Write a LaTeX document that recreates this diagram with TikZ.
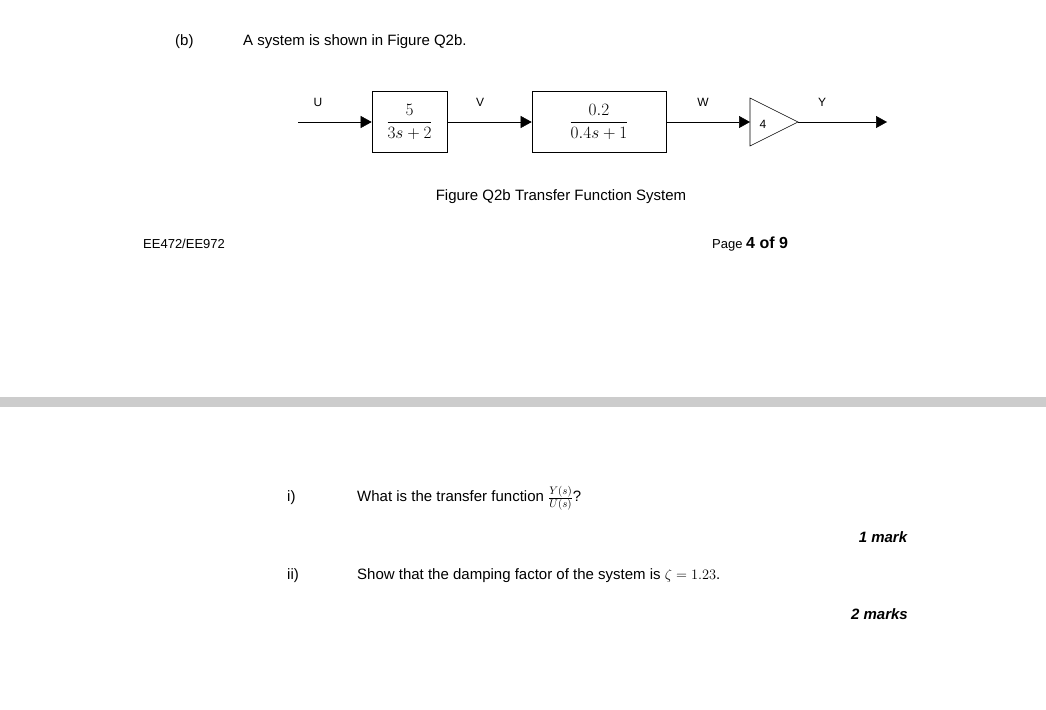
\documentclass[tikz,border=0pt]{standalone}
\usepackage{amsmath}
\usepackage{fontspec}
\setmainfont{Liberation Sans}
\usetikzlibrary{arrows.meta}
\begin{document}
\begin{tikzpicture}[x=1pt,y=-1pt,
  txt/.style={anchor=west,inner sep=0,font=\fontsize{15}{18}\selectfont},
  sig/.style={inner sep=0,font=\fontsize{12}{14}\selectfont},
  blk/.style={draw,line width=0.6pt,inner sep=0},
  arr/.style={line width=0.5pt,-{Triangle[length=11pt,width=12pt]}}]
\useasboundingbox (0,0) rectangle (1046,709);
\fill[gray!40] (0,397) rectangle (1046,407);
\node[txt] (b) at (175,42) {(b)};
\node[txt] (t1) at (243,42) {A system is shown in Figure Q2b.};
% diagram
\coordinate (in) at (298,122);
\node[blk,minimum width=75pt,minimum height=61pt] (g1) at (409.5,122) {\fontsize{19}{22}\selectfont$\dfrac{5}{3s+2}$};
\node[blk,minimum width=134pt,minimum height=61pt] (g2) at (599,122) {\fontsize{19}{22}\selectfont$\dfrac{0.2}{0.4s+1}$};
\draw[line width=0.6pt] (750,98) -- (798,122) -- (750,146) -- cycle;
\coordinate (k) at (750,122);
\coordinate (kout) at (798,122);
\node[sig] (four) at (763,124) {4};
\coordinate (out) at (887,122);
\draw[arr] (in) -- (g1.west);
\draw[arr] (g1.east) -- (g2.west);
\draw[arr] (g2.east) -- (k);
\draw[arr] (kout) -- (out);
\node[sig] (U) at (318,102) {U};
\node[sig] (V) at (480,102) {V};
\node[sig] (W) at (703,102) {W};
\node[sig] (Y) at (822,102) {Y};
\node[txt,anchor=center] (cap) at (561,197) {Figure Q2b Transfer Function System};
\node[txt,anchor=west,font=\fontsize{13}{16}\selectfont] (ee) at (143,244) {EE472/EE972};
\node[txt,anchor=west,font=\fontsize{13}{16}\selectfont] (pg) at (712,244) {Page \textbf{\fontsize{16}{18}\selectfont 4 of 9}};
\node[txt] (i) at (287,498) {i)};
\node[txt] (q1) at (357,498) {What is the transfer function $\frac{Y(s)}{U(s)}$?};
\node[txt,anchor=east] (m1) at (908,537) {\textbf{\itshape 1 mark}};
\node[txt] (ii) at (287,576) {ii)};
\node[txt] (q2) at (357,576) {Show that the damping factor of the system is $\zeta=1.23$.};
\node[txt,anchor=east] (m2) at (908,614) {\textbf{\itshape 2 marks}};
\end{tikzpicture}
\end{document}
